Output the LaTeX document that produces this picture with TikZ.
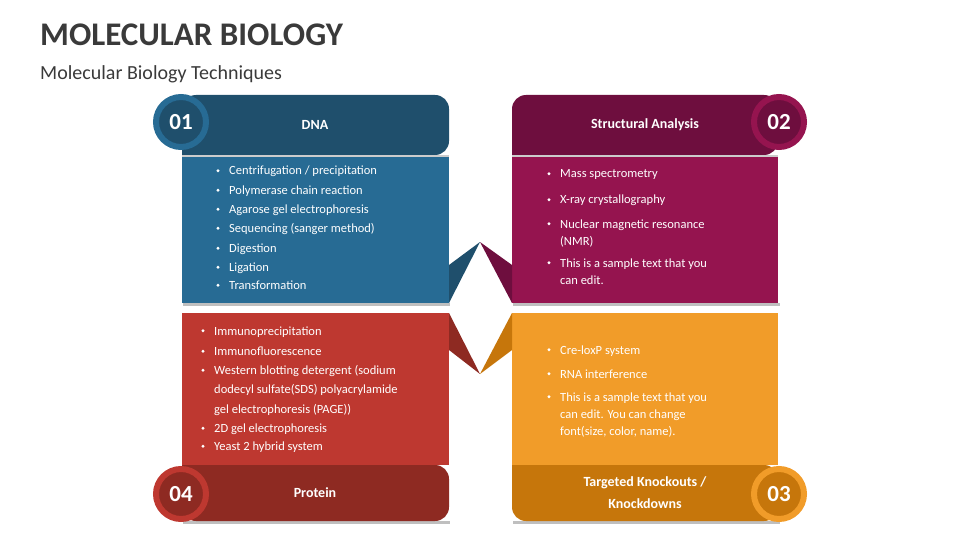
\documentclass[tikz,border=0pt]{standalone}
\usepackage{fontspec}
\setmainfont{Carlito}
\definecolor{bH}{HTML}{1F4F6C}\definecolor{bB}{HTML}{276B94}
\definecolor{pH}{HTML}{6E0E3E}\definecolor{pB}{HTML}{95144F}
\definecolor{rH}{HTML}{8E2A22}\definecolor{rB}{HTML}{BE3830}
\definecolor{oH}{HTML}{C6760B}\definecolor{oB}{HTML}{F19C29}
\definecolor{tt}{HTML}{3A3A3A}
\tikzset{itm/.style={anchor=base west,text=white,font=\fontsize{12.5}{14}\selectfont,inner sep=0pt},
 hd/.style={text=white,font=\bfseries\fontsize{14}{22}\selectfont,align=center},
 num/.style={circle,minimum size=50pt,line width=6pt,text=white,font=\bfseries\fontsize{23}{24}\selectfont,inner sep=0pt},
 shd/.style={fill=black!25}}
\newcommand{\bul}[4]{\fill[white] (#1,#2-4.2) circle (1.6pt); \node[itm] (#4) at (#1+11,#2) {#3};}
\begin{document}
\begin{tikzpicture}[x=1pt,y=-1pt]
\useasboundingbox (0,0) rectangle (960,540);
\node[anchor=base west,text=tt,font=\bfseries\fontsize{33}{36}\selectfont,inner sep=0pt] (title) at (40,46) {MOLECULAR BIOLOGY};
\node[anchor=base west,text=tt,font=\fontsize{20}{24}\selectfont,inner sep=0pt] (sub) at (40,80) {Molecular Biology Techniques};
% shadows
\foreach \x in {182,512}{\fill[shd] (\x+1,303) rectangle (\x+268,306); \fill[shd] (\x+1,521) rectangle (\x+268,524);}
% DNA
\fill[bB] (182,155) rectangle (449,303);
\fill[bH,rounded corners=14pt] (182,155) -- (182,95) -- (449,95) -- (449,155) [sharp corners]-- cycle;
\fill[black!20] (182,155) rectangle (449,157);
\fill[bH] (480,242) -- (449,265) -- (449,303) -- cycle;
% Structural
\fill[pB] (512,155) rectangle (778,303);
\fill[pH,rounded corners=14pt] (512,155) -- (512,95) -- (778,95) -- (778,155) [sharp corners]-- cycle;
\fill[black!20] (512,155) rectangle (778,157);
\fill[pH] (480,242) -- (512,265) -- (512,303) -- cycle;
% Protein
\fill[rB] (182,313) rectangle (449,465);
\fill[rH,rounded corners=14pt] (182,465) -- (182,521) -- (449,521) -- (449,465) [sharp corners]-- cycle;
\fill[rH] (449,313) -- (449,350) -- (480,374) -- cycle;
% Targeted
\fill[oB] (512,313) rectangle (778,465);
\fill[oH,rounded corners=14pt] (512,465) -- (512,521) -- (778,521) -- (778,465) [sharp corners]-- cycle;
\fill[oH] (512,313) -- (512,350) -- (480,374) -- cycle;
% headers
\node[hd] (h1) at (315,125) {DNA};
\node[hd] (h2) at (645,125) {Structural Analysis};
\node[hd] (h4) at (315,493) {Protein};
\node[hd] (h3) at (645,493) {Targeted Knockouts /\\Knockdowns};
% circles
\node[num,draw=bB,fill=bH] (c1) at (181,122) {01};
\node[num,draw=pB,fill=pH] (c2) at (779,122) {02};
\node[num,draw=oB,fill=oH] (c3) at (779,494) {03};
\node[num,draw=rB,fill=rH] (c4) at (181,494) {04};
% DNA items
\bul{218}{175}{Centrifugation / precipitation}{d1}
\bul{218}{194.5}{Polymerase chain reaction}{d2}
\bul{218}{213.5}{Agarose gel electrophoresis}{d3}
\bul{218}{232.5}{Sequencing (sanger method)}{d4}
\bul{218}{252.5}{Digestion}{d5}
\bul{218}{271.5}{Ligation}{d6}
\bul{218}{289.5}{Transformation}{d7}
% Structural
\bul{549}{178}{Mass spectrometry}{s1}
\bul{549}{204}{X-ray crystallography}{s2}
\bul{549}{228}{Nuclear magnetic resonance}{s3}
\node[itm] (s3b) at (560,245) {(NMR)};
\bul{549}{267}{This is a sample text that you}{s4}
\node[itm] (s4b) at (560,284) {can edit.};
% Protein
\bul{203}{335}{Immunoprecipitation}{p1}
\bul{203}{355.5}{Immunofluorescence}{p2}
\bul{203}{374.5}{Western blotting detergent (sodium}{p3}
\node[itm] (p3b) at (214,393.5) {dodecyl sulfate(SDS) polyacrylamide};
\node[itm] (p3c) at (214,413.5) {gel electrophoresis (PAGE))};
\bul{203}{432.5}{2D gel electrophoresis}{p4}
\bul{203}{450.5}{Yeast 2 hybrid system}{p5}
% Targeted
\bul{549}{354}{Cre-loxP system}{t1}
\bul{549}{378}{RNA interference}{t2}
\bul{549}{401}{This is a sample text that you}{t3}
\node[itm] (t3b) at (560,418) {can edit. You can change};
\node[itm] (t3c) at (560,435) {font(size, color, name).};
\end{tikzpicture}
\end{document}
